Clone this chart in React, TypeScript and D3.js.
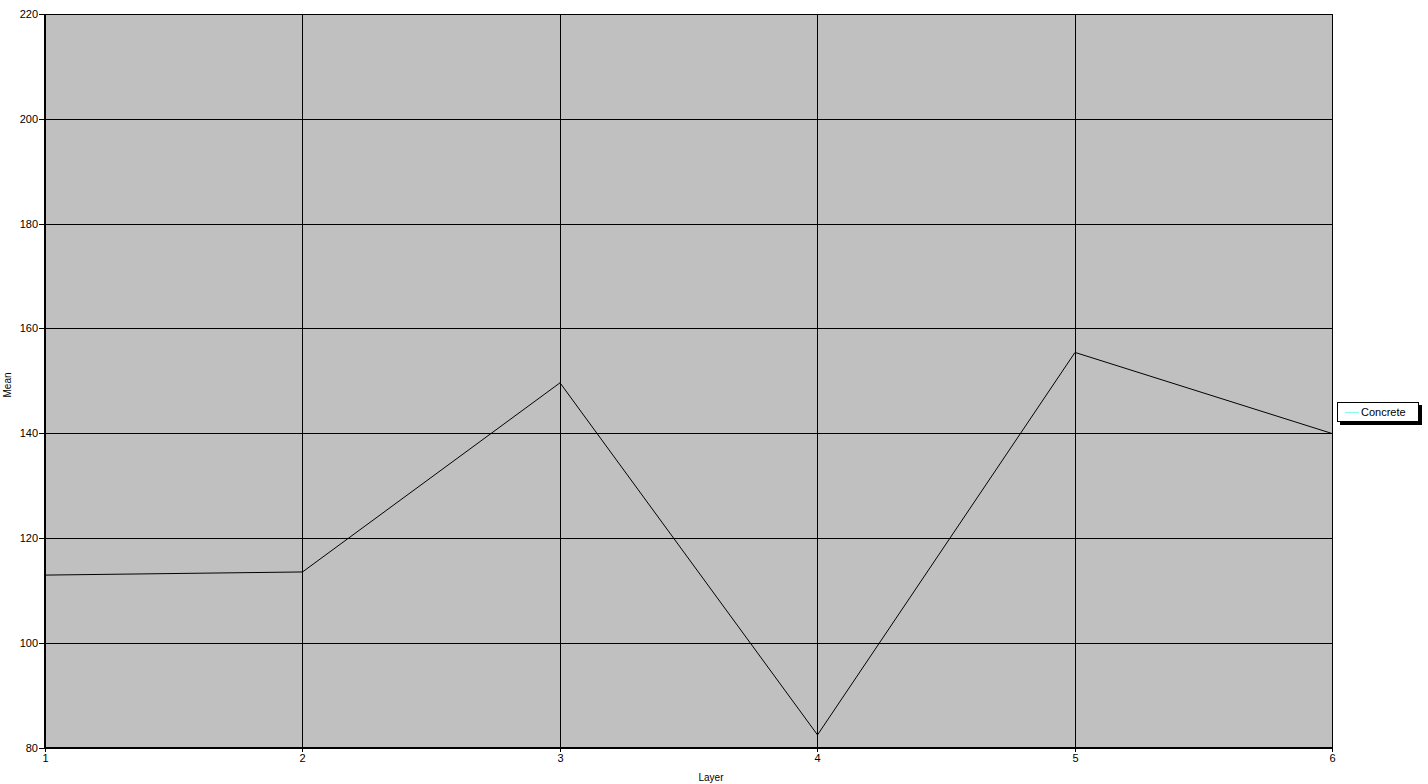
import React from "react";
import * as d3 from "d3";

const layers = [1, 2, 3, 4, 5, 6];
const meanConcrete = [113.0, 113.6, 149.7, 82.5, 155.5, 140.0];
const yTicks = [80, 100, 120, 140, 160, 180, 200, 220];
const seriesName = "Concrete";
const xTitle = "Layer";
const yTitle = "Mean";

const W = 1428;
const H = 784;
const FONT = "'Liberation Sans', Arial, sans-serif";

export default function App() {
  const x = d3.scaleLinear().domain([1, 6]).range([45, 1332.5]);
  const y = d3.scaleLinear().domain([80, 220]).range([748, 14.5]);
  const data = layers.map((l, i) => ({ l, v: meanConcrete[i] }));
  const line = d3
    .line<{ l: number; v: number }>()
    .x((d) => x(d.l))
    .y((d) => y(d.v));
  const snap = (v: number) => Math.floor(v) + 0.5;

  return (
    <div style={{ position: "fixed", left: 0, top: 0, width: W, height: H, background: "#fff" }}>
      <svg width={W} height={H} style={{ display: "block" }} fontFamily={FONT}>
        <rect x={44} y={14} width={1289} height={734} fill="#c0c0c0" />
        {/* horizontal gridlines */}
        {yTicks.map((t) => (
          <line
            key={"gy" + t}
            x1={44}
            x2={1333}
            y1={snap(y(t))}
            y2={snap(y(t))}
            stroke="#000"
            strokeWidth={1}
            shapeRendering="crispEdges"
          />
        ))}
        {/* vertical gridlines */}
        {layers.map((l) => (
          <line
            key={"gx" + l}
            x1={snap(x(l))}
            x2={snap(x(l))}
            y1={14}
            y2={748}
            stroke="#000"
            strokeWidth={1}
            shapeRendering="crispEdges"
          />
        ))}
        {/* axes */}
        <line x1={45} x2={45} y1={14} y2={749} stroke="#000" strokeWidth={2} shapeRendering="crispEdges" />
        <line x1={44} x2={1333} y1={748} y2={748} stroke="#000" strokeWidth={2} shapeRendering="crispEdges" />
        {/* y ticks */}
        {yTicks.map((t) => (
          <g key={"ty" + t}>
            <line x1={39} x2={44} y1={snap(y(t))} y2={snap(y(t))} stroke="#000" shapeRendering="crispEdges" />
            <text x={38} y={snap(y(t))} dy="0.35em" textAnchor="end" fontSize={11} fill="#000">
              {t}
            </text>
          </g>
        ))}
        {/* x ticks */}
        {layers.map((l) => (
          <g key={"tx" + l}>
            <line x1={snap(x(l))} x2={snap(x(l))} y1={749} y2={752} stroke="#000" shapeRendering="crispEdges" />
            <text x={snap(x(l))} y={762} textAnchor="middle" fontSize={11} fill="#000">
              {l}
            </text>
          </g>
        ))}
        {/* data line */}
        <path d={line(data) || ""} fill="none" stroke="#000" strokeWidth={1} />
        {/* titles */}
        <text x={711} y={781} textAnchor="middle" fontSize={10} fill="#000">
          {xTitle}
        </text>
        <text transform="translate(10.5,385) rotate(-90)" textAnchor="middle" fontSize={10} fill="#000">
          {yTitle}
        </text>
        {/* legend */}
        <rect x={1340} y={405} width={82} height={20} fill="#000" />
        <rect x={1337.5} y={402.5} width={81} height={19} fill="#fff" stroke="#000" strokeWidth={1} shapeRendering="crispEdges" />
        <line x1={1345} x2={1359} y1={412.5} y2={412.5} stroke="#88ffe8" strokeWidth={1.2} />
        <text x={1361} y={415.5} fontSize={11} fill="#000">
          {seriesName}
        </text>
      </svg>
    </div>
  );
}
